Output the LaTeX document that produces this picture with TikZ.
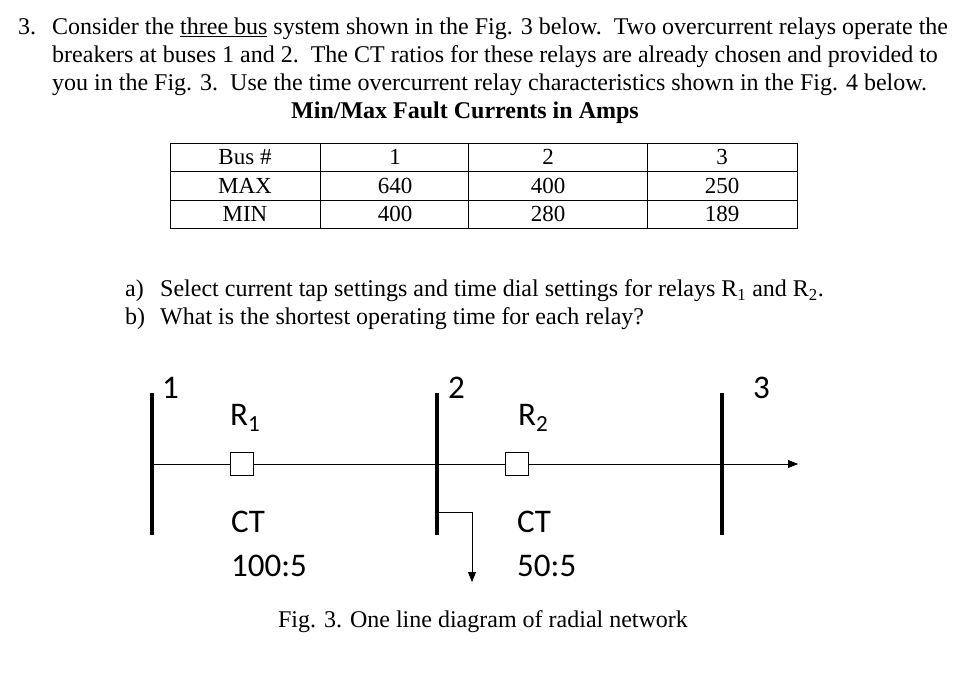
\documentclass[tikz,border=0pt]{standalone}
\usepackage{fontspec}
\setmainfont{Liberation Serif}
\newfontfamily\calfnt{Carlito}
\usetikzlibrary{arrows.meta}
\begin{document}
\begin{tikzpicture}[x=1pt,y=-1pt,
  txt/.style={anchor=base west,inner sep=0pt,font=\fontsize{24}{28}\selectfont},
  cell/.style={anchor=base,inner sep=0pt,font=\fontsize{23}{26}\selectfont},
  lab/.style={inner sep=0pt,anchor=west,font=\calfnt\fontsize{33}{38}\selectfont},
  bus/.style={line width=4pt},
  wire/.style={line width=0.8pt},
  cb/.style={draw,line width=1.2pt,fill=white,minimum size=23pt,inner sep=0pt}]
\useasboundingbox (0,0) rectangle (963,684);
\node[txt] (n3) at (18,35) {3.};
\node[txt] (l1) at (52,35) {Consider the \underline{three bus} system shown in the Fig. 3 below.\ \ Two overcurrent relays operate the};
\node[txt] (l2) at (52,63) {breakers at buses 1 and 2.\ \ The CT ratios for these relays are already chosen and provided to};
\node[txt] (l3) at (52,91) {you in the Fig. 3.\ \ Use the time overcurrent relay characteristics shown in the Fig. 4 below.};
\node[anchor=base,inner sep=0pt,font=\bfseries\fontsize{24}{28}\selectfont] (ttl) at (465,119) {Min/Max Fault Currents in Amps};
% table
\draw[line width=0.8pt] (170,143) rectangle (797,228);
\foreach \y in {171,200} \draw[line width=0.8pt] (170,\y) -- (797,\y);
\foreach \x in {320,468,647} \draw[line width=0.8pt] (\x,143) -- (\x,228);
\node[cell] (b0) at (245,165) {Bus \#};
\node[cell] (b1) at (395,165) {1};
\node[cell] (b2) at (548,165) {2};
\node[cell] (b3) at (722,165) {3};
\node[cell] (m0) at (245,194) {MAX};
\node[cell] (m1) at (395,194) {640};
\node[cell] (m2) at (548,194) {400};
\node[cell] (m3) at (722,194) {250};
\node[cell] (n0) at (245,222) {MIN};
\node[cell] (nn1) at (395,222) {400};
\node[cell] (nn2) at (548,222) {280};
\node[cell] (nn3) at (722,222) {189};
\node[txt] (qa) at (125,297) {a)};
\node[txt] (qat) at (160,297) {Select current tap settings and time dial settings for relays R\textsubscript{1} and R\textsubscript{2}.};
\node[txt] (qb) at (125,325) {b)};
\node[txt] (qbt) at (160,325) {What is the shortest operating time for each relay?};
% diagram
\coordinate (b1t) at (152,393); \coordinate (b1b) at (152,535);
\coordinate (b2t) at (437,393); \coordinate (b2b) at (437,535);
\coordinate (b3t) at (722,393); \coordinate (b3b) at (722,535);
\draw[bus] (b1t) -- (b1b);
\draw[bus] (b2t) -- (b2b);
\draw[bus] (b3t) -- (b3b);
\coordinate (ls) at (152,464);
\coordinate (le) at (798,464);
\draw[wire,-{Triangle[length=10pt,width=8pt]}] (ls) -- (le);
\node[cb] (cb1) at (242,464) {};
\node[cb] (cb2) at (517,464) {};
\coordinate (br1) at (437,512); \coordinate (br2) at (472,512); \coordinate (br3) at (472,582);
\draw[wire,-{Triangle[length=10pt,width=8pt]}] (br1) -- (br2) -- (br3);
\node[lab] (t1) at (162,388) {1};
\node[lab] (t2) at (448,388) {2};
\node[lab] (t3) at (753,388) {3};
\node[lab] (r1) at (230,418) {R\textsubscript{1}};
\node[lab] (r2) at (518,418) {R\textsubscript{2}};
\node[lab] (ct1) at (231,522) {CT};
\node[lab] (ct2) at (517,522) {CT};
\node[lab] (ra1) at (231,566) {100:5};
\node[lab] (ra2) at (517,566) {50:5};
\node[anchor=base,inner sep=0pt,font=\fontsize{24}{28}\selectfont] (cap) at (483,627) {Fig. 3. One line diagram of radial network};
\end{tikzpicture}
\end{document}
